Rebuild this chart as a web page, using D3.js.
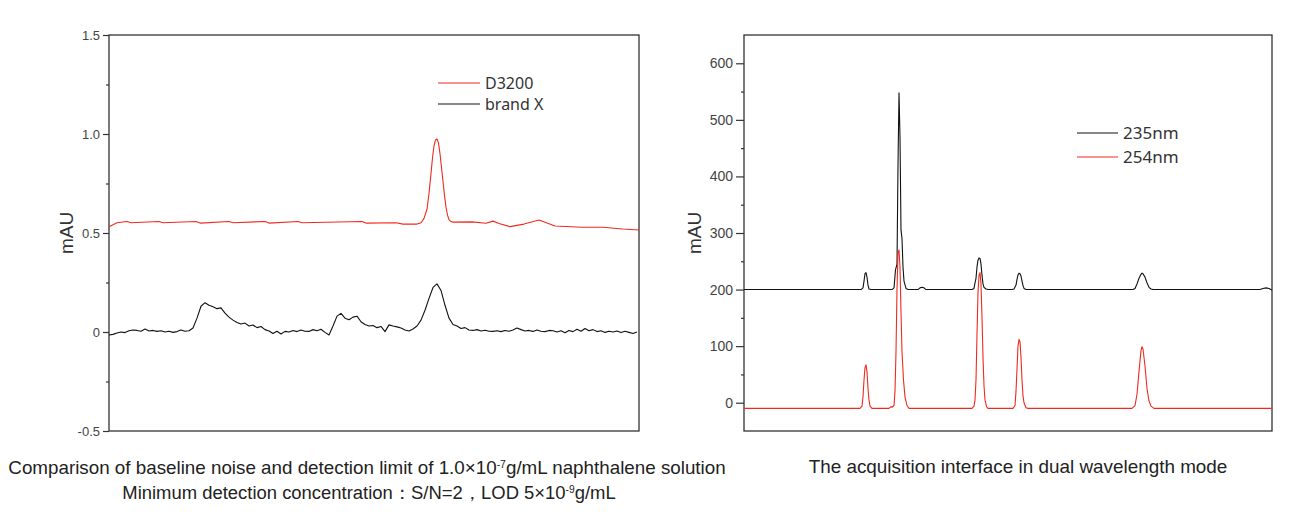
<!DOCTYPE html>
<meta charset="utf-8">
<style>
body { margin: 0; background: #fff; }
.axis path, .axis line { stroke: #333; stroke-width: 1.2; }
.axis text { fill: #444; font-family: "Liberation Sans", Arial, sans-serif; }
.frame { fill: none; stroke: #333; stroke-width: 1.3; }
.line { fill: none; stroke-width: 1.1; stroke-linejoin: round; }
.lab { font-family: "Liberation Sans", Arial, sans-serif; font-size: 19px; fill: #333; }
.leg { font-family: "Noto Sans", sans-serif; font-size: 16px; fill: #333; }
.cap { font-family: "Liberation Sans", Arial, sans-serif; font-size: 18px; fill: #222; }
</style>
<body>
<script src="https://d3js.org/d3.v7.min.js"></script>
<script>
// left chart: baseline noise, D3200 vs brand X
var leftTicks = [-0.5, 0, 0.5, 1.0, 1.5];
var leftTickLabels = ["-0.5", "0", "0.5", "1.0", "1.5"];
var leftMinor = [-0.25, 0.25, 0.75, 1.25];
var leftSeries = ["D3200", "brand X"];

// D3200 trace, [time, mAU]
var d3200 = [[0,0.532],[8,0.552],[18,0.558],[22,0.552],[50,0.558],[54,0.552],[87,0.558],[91,0.550],
  [120,0.558],[124,0.552],[156,0.558],[160,0.550],[189,0.558],[193,0.552],[253,0.558],[257,0.550],
  [287,0.552],[294,0.545],[308,0.545],[312,0.552],[315,0.574],[318,0.62],[320,0.70],[322,0.80],
  [323.5,0.88],[325,0.94],[326.5,0.97],[328,0.975],[329.5,0.955],[331,0.90],[332.5,0.83],[334,0.76],
  [335.5,0.69],[337,0.63],[338.5,0.59],[340,0.568],[342,0.558],[344,0.555],[363,0.556],[377,0.549],
  [384,0.560],[390,0.548],[401,0.532],[415,0.545],[430,0.566],[446,0.535],[473,0.529],[494,0.529],
  [505,0.524],[514,0.520],[530,0.515]];

// brand X trace, one reading every 4 time units
var brandX = [-0.015,-0.012,-0.005,0.0,-0.003,0.006,0.01,0.008,0.004,0.015,0.005,0.008,0.003,0.006,0.0,0.004,
  -0.002,0.002,0.01,0.004,0.006,0.02,0.07,0.13,0.148,0.135,0.128,0.118,0.122,0.095,0.075,0.06,
  0.048,0.04,0.045,0.03,0.035,0.022,0.028,0.012,0.005,-0.008,0.004,-0.01,0.003,0.0,0.008,0.002,
  0.01,0.004,0.003,0.012,0.006,0.014,-0.002,-0.015,0.03,0.08,0.094,0.07,0.062,0.075,0.08,0.052,
  0.038,0.03,0.033,0.022,0.028,0.002,0.036,0.03,0.026,0.02,0.01,0.005,0.015,0.03,0.06,0.11,
  0.17,0.225,0.243,0.21,0.135,0.07,0.038,0.03,0.018,0.022,0.01,0.008,0.012,0.005,0.009,0.004,
  0.003,0.006,0.002,0.008,0.004,0.01,0.02,0.012,0.005,0.008,0.003,0.01,0.004,0.002,0.008,0.006,
  0.0,0.006,-0.004,0.008,0.002,0.014,0.004,0.018,0.006,0.012,0.002,0.006,-0.002,0.004,0.0,0.005,
  -0.003,0.004,-0.002,-0.008,0.0];

// right chart: dual wavelength
var rightTicks = [0, 100, 200, 300, 400, 500, 600];
var rightMinor = [50, 150, 250, 350, 450, 550];
var rightSeries = ["235nm", "254nm"];

var nm235 = [[0,200],[117,200],[119,203],[120,215],[121,228],[122,230],[123,222],[124,208],[125,201],[127,200],
  [148,200],[150,203],[151.5,235],[153,245],[154,420],[155,548],[156,470],[157,305],[158,290],[159,240],
  [160,215],[162,202],[164,200],[174,200],[176,203],[178,204],[180,203],[182,200],
  [228,200],[230,202],[231,212],[232,220],[233,240],[234,252],[235,256],[236,255],[237,245],[238,225],
  [239,210],[240,204],[242,201],[244,200],
  [268,200],[270,201],[272,208],[273,218],[274,226],[275,229],[276,228],[277,224],[278,215],[279,207],
  [280,202],[282,200],
  [389,200],[391,202],[393,210],[395,220],[397,227],[398,229],[399,228],[401,222],[403,212],[405,204],
  [407,201],[409,200],[516,200],[519,202],[522,203],[525,202],[528,199]];

var nm254 = [[0,-10],[116,-10],[118,-6],[119,10],[120,40],[121,62],[122,67],[123,55],[124,25],[125,5],
  [126,-6],[128,-10],[145,-10],[147,-7],[148,-8],[150,-5],[151,20],[152,90],[153,200],[154,265],[155,270],
  [156,240],[157,160],[158,90],[159.5,40],[161,10],[163,-5],[165,-10],
  [228,-10],[230,-6],[231,5],[232,40],[233,120],[234,195],[235,225],[236,230],[237,210],[238,150],
  [239,80],[240,30],[241,5],[242.5,-7],[244,-10],
  [269,-10],[271,-5],[272,20],[273,60],[274,100],[275,112],[276,108],[277,80],[278,40],[279,12],
  [280,0],[282,-9],[284,-10],
  [388,-10],[391,-5],[393,15],[395,55],[397,92],[398,99],[399,95],[401,65],[403,25],[405,3],
  [407,-6],[410,-10],[528,-10]];

var W = 1294, H = 532;
var svg = d3.select("body").append("svg").attr("width", W).attr("height", H);

function panel(x0, x1, xdom, ydom, major, labels, minor, tickLen, fontSize, labelX) {
  var x = d3.scaleLinear().domain(xdom).range([x0, x1]),
      y = d3.scaleLinear().domain(ydom).range([431, 35]);
  var g = svg.append("g");

  g.append("g")
      .attr("class", "axis")
      .attr("transform", "translate(" + x0 + ",0)")
      .call(d3.axisLeft(y).tickValues(minor).tickSize(3).tickFormat(""))
      .select(".domain").remove();

  var ax = g.append("g")
      .attr("class", "axis")
      .attr("transform", "translate(" + x0 + ",0)")
      .call(d3.axisLeft(y).tickValues(major).tickSize(tickLen).tickSizeOuter(0).tickPadding(3)
        .tickFormat(function(d, i) { return labels ? labels[i] : d; }));
  ax.select(".domain").remove();
  ax.selectAll("text").style("font-size", fontSize + "px");

  g.append("rect")
      .attr("class", "frame")
      .attr("x", x0).attr("y", 35)
      .attr("width", x1 - x0).attr("height", 431 - 35);

  g.append("text")
      .attr("class", "lab")
      .attr("transform", "translate(" + labelX + ",233) rotate(-90)")
      .attr("text-anchor", "middle")
      .attr("dy", "0.35em")
      .text("mAU");

  return {g: g, x: x, y: y};
}

// left panel
var L = panel(109, 639, [0, 530], [-0.5, 1.5], leftTicks, leftTickLabels, leftMinor, 6, 13, 66);

L.g.append("path")
    .datum(brandX)
    .attr("class", "line")
    .attr("stroke", "#111")
    .attr("d", d3.line().x(function(d, i) { return L.x(i * 4); }).y(function(d) { return L.y(d); }));

L.g.append("path")
    .datum(d3200)
    .attr("class", "line")
    .attr("stroke", "#f02a1e")
    .attr("d", d3.line().x(function(d) { return L.x(d[0]); }).y(function(d) { return L.y(d[1]); }));

var legL = L.g.selectAll(".legl").data(leftSeries).enter().append("g")
    .attr("transform", function(d, i) { return "translate(438," + (83 + i * 21) + ")"; });
legL.append("line").attr("x1", 0).attr("x2", 42)
    .attr("stroke", function(d, i) { return i == 0 ? "#f02a1e" : "#111"; }).attr("stroke-width", 1.1);
legL.append("text").attr("class", "leg").attr("x", 47).attr("dy", "0.35em").text(function(d) { return d; });

// right panel
var R = panel(744, 1272, [0, 528], [-50, 650], rightTicks, null, rightMinor, 8, 14, 694);

R.g.append("path")
    .datum(nm235)
    .attr("class", "line")
    .attr("stroke", "#111")
    .attr("d", d3.line().x(function(d) { return R.x(d[0]); }).y(function(d) { return R.y(d[1]); }));

R.g.append("path")
    .datum(nm254)
    .attr("class", "line")
    .attr("stroke", "#f02a1e")
    .attr("d", d3.line().x(function(d) { return R.x(d[0]); }).y(function(d) { return R.y(d[1]); }));

var legR = R.g.selectAll(".legr").data(rightSeries).enter().append("g")
    .attr("transform", function(d, i) { return "translate(1077," + (133 + i * 24) + ")"; });
legR.append("line").attr("x1", 0).attr("x2", 41)
    .attr("stroke", function(d, i) { return i == 0 ? "#111" : "#f02a1e"; }).attr("stroke-width", 1.1);
legR.append("text").attr("class", "leg").style("font-size", "17px").attr("x", 46).attr("dy", "0.35em")
    .text(function(d) { return d; });

// captions, squeezed to the width they take in the original
function caption(cx, cy, width, parts) {
  var t = svg.append("text").attr("class", "cap").attr("text-anchor", "middle");
  var lift = 0;
  parts.forEach(function(p) {
    if (p.sup) {
      t.append("tspan").attr("dy", -6).style("font-size", "10px").text(p.sup);
      lift = 6;
    } else {
      t.append("tspan").attr("dy", lift).text(p.t);
      lift = 0;
    }
  });
  var w = t.node().getComputedTextLength();
  t.attr("transform", "translate(" + cx + "," + cy + ") scale(" + (width / w) + ",1)");
}

caption(367, 474, 718, [{t: "Comparison of baseline noise and detection limit of 1.0×10"}, {sup: "-7"},
  {t: "g/mL naphthalene solution"}]);
caption(369, 499, 494, [{t: "Minimum detection concentration：S/N=2，LOD 5×10"}, {sup: "-9"}, {t: "g/mL"}]);
caption(1018, 473, 419, [{t: "The acquisition interface in dual wavelength mode"}]);
</script>
</body>
